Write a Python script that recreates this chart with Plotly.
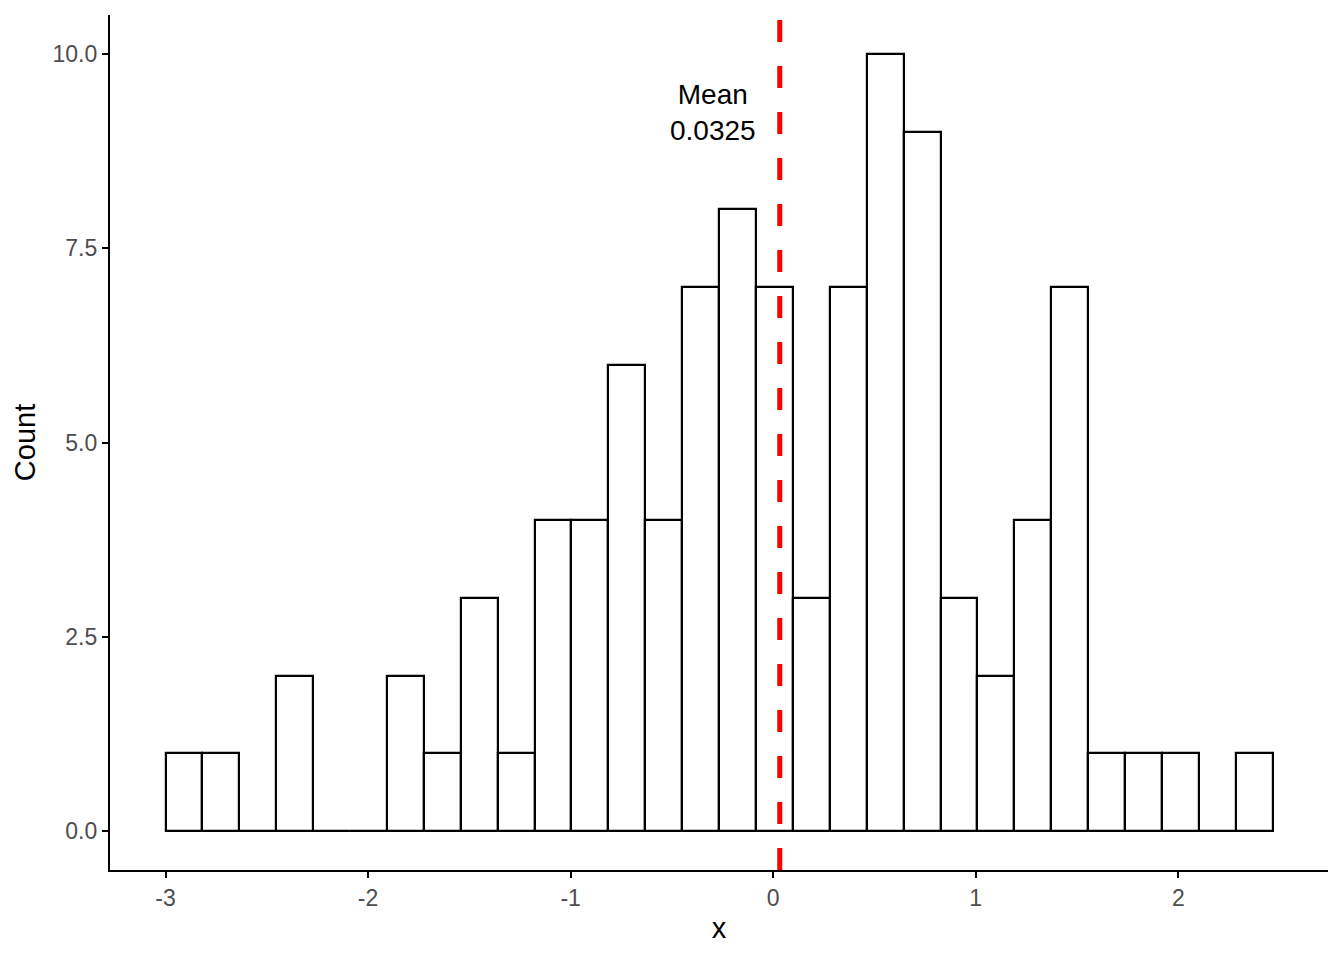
import numpy as np
import plotly.graph_objects as go

# histogram: 30 bins, left edge of the first bin and common width
bin_start = -3.0
bin_width = 0.1822
counts = [1, 1, 0, 2, 0, 0, 2, 1, 3, 1,
          4, 4, 6, 4, 7, 8, 7, 3, 7, 10,
          9, 3, 2, 4, 7, 1, 1, 1, 0, 1]
mean_x = 0.0325
mean_label = "Mean<br>%s" % mean_x
y_ticks = [0, 2.5, 5, 7.5, 10]
y_tick_text = ["0.0", "2.5", "5.0", "7.5", "10.0"]
x_ticks = [-3, -2, -1, 0, 1, 2]

centers = bin_start + bin_width * (np.arange(len(counts)) + 0.5)

fig = go.Figure()
fig.add_trace(go.Bar(
    x=centers, y=counts, width=bin_width,
    marker=dict(color="white", line=dict(color="black", width=2.2)),
    hoverinfo="x+y",
))

# dashes start from the bottom of the panel like in ggplot
fig.add_shape(type="line", xref="x", yref="paper", x0=mean_x, x1=mean_x, y0=0, y1=1,
              line=dict(color="red", width=5, dash="22px,24px"))
fig.add_annotation(x=-0.296, y=9.25, text=mean_label, showarrow=False,
                   font=dict(size=28, color="black"))

fig.update_layout(
    width=1344, height=960,
    plot_bgcolor="white", paper_bgcolor="white",
    margin=dict(l=102, r=24, t=7, b=98, autoexpand=False),
    font=dict(family="Liberation Sans, Arial, sans-serif"),
    showlegend=False,
    bargap=0,
)
fig.update_xaxes(
    range=[-3.274, 2.739], tickvals=x_ticks, ticktext=[str(v) for v in x_ticks],
    showgrid=False, zeroline=False, showline=True, linecolor="black", linewidth=2.2,
    ticks="outside", ticklen=6, tickwidth=2.2, tickcolor="black",
    tickfont=dict(size=23, color="#4d4d4d"),
    title=dict(text="x", font=dict(size=29, color="black"), standoff=8),
    automargin=False,
)
fig.update_yaxes(
    range=[-0.5, 10.5], tickvals=y_ticks, ticktext=y_tick_text,
    showgrid=False, zeroline=False, showline=True, linecolor="black", linewidth=2.2,
    ticks="outside", ticklen=6, tickwidth=2.2, tickcolor="black",
    tickfont=dict(size=23, color="#4d4d4d"),
    title=dict(text="Count", font=dict(size=29, color="black"), standoff=8),
    automargin=False,
)

fig.write_html("out.html")
